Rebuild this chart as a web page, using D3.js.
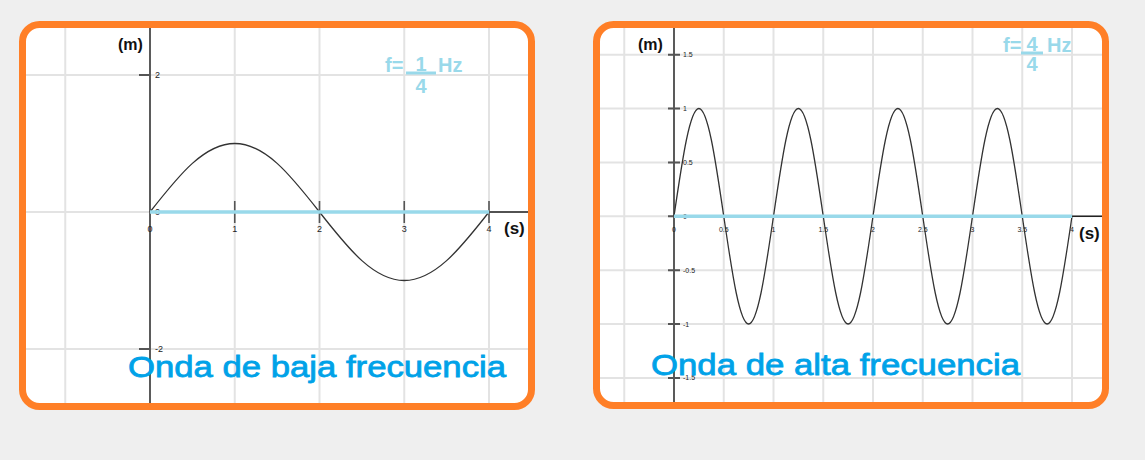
<!DOCTYPE html>
<html>
<head>
<meta charset="utf-8">
<script src="https://cdn.jsdelivr.net/npm/d3@7"></script>
<style>
  html, body { margin: 0; padding: 0; background: #efefef; }
  svg { display: block; font-family: "Liberation Sans", Arial, sans-serif; }
</style>
</head>
<body>
<div id="chart"></div>
<script>
// wave samples (time in s, displacement in m)
var lowT = [0, 0.5, 1, 1.5, 2, 2.5, 3, 3.5, 4];
var lowY = [0, 0.71, 1, 0.71, 0, -0.71, -1, -0.71, 0];

var highT = [0, 0.125, 0.25, 0.375, 0.5, 0.625, 0.75, 0.875,
             1, 1.125, 1.25, 1.375, 1.5, 1.625, 1.75, 1.875,
             2, 2.125, 2.25, 2.375, 2.5, 2.625, 2.75, 2.875,
             3, 3.125, 3.25, 3.375, 3.5, 3.625, 3.75, 3.875, 4];
var highY = [0, 0.71, 1, 0.71, 0, -0.71, -1, -0.71,
             0, 0.71, 1, 0.71, 0, -0.71, -1, -0.71,
             0, 0.71, 1, 0.71, 0, -0.71, -1, -0.71,
             0, 0.71, 1, 0.71, 0, -0.71, -1, -0.71, 0];

var lowXTicks = [0, 1, 2, 3, 4];
var lowYTicks = [2, 0, -2];
var highXTicks = [0, 0.5, 1, 1.5, 2, 2.5, 3, 3.5, 4];
var highYTicks = [1.5, 1, 0.5, 0, -0.5, -1, -1.5];

var ORANGE = "#ff7f27", LIGHTBLUE = "#99d9ea", TITLEBLUE = "#00a2e8", GRID = "#e3e3e3";

var svg = d3.select("#chart").append("svg")
    .attr("width", 1145)
    .attr("height", 460);

svg.append("rect").attr("width", 1145).attr("height", 460).attr("fill", "#efefef");

var defs = svg.append("defs");

var Panel = function (p) {
    this.p = p;
    this.g = svg.append("g");
};

Panel.prototype.build = function () {
    var p = this.p, g = this.g;
    var x = d3.scaleLinear().domain(p.xDomain).range(p.xRange);
    var y = d3.scaleLinear().domain(p.yDomain).range(p.yRange);

    // frame
    g.append("rect")
        .attr("x", p.left + 3.5).attr("y", p.top + 3.5)
        .attr("width", p.w - 7).attr("height", p.h - 7)
        .attr("rx", 17)
        .attr("fill", "#fff")
        .attr("stroke", ORANGE)
        .attr("stroke-width", 7);

    defs.append("clipPath").attr("id", p.id)
        .append("rect")
        .attr("x", p.left + 7).attr("y", p.top + 7)
        .attr("width", p.w - 14).attr("height", p.h - 14)
        .attr("rx", 13);

    var inner = g.append("g").attr("clip-path", "url(#" + p.id + ")");
    var x0 = p.left + 7, x1 = p.left + p.w - 7, y0 = p.top + 7, y1 = p.top + p.h - 7;

    // grid
    inner.selectAll("line.vg").data(p.xGrid).enter().append("line")
        .attr("x1", function (d) { return x(d); }).attr("x2", function (d) { return x(d); })
        .attr("y1", y0).attr("y2", y1)
        .attr("stroke", GRID).attr("stroke-width", 2);
    inner.selectAll("line.hg").data(p.yGrid).enter().append("line")
        .attr("y1", function (d) { return y(d); }).attr("y2", function (d) { return y(d); })
        .attr("x1", x0).attr("x2", x1)
        .attr("stroke", GRID).attr("stroke-width", 2);

    // axes
    inner.append("line")
        .attr("x1", x(0)).attr("x2", x(0)).attr("y1", y0).attr("y2", y1)
        .attr("stroke", "#111").attr("stroke-width", 1.3);
    inner.append("line")
        .attr("x1", x(0)).attr("x2", x1).attr("y1", y(0)).attr("y2", y(0))
        .attr("stroke", "#222").attr("stroke-width", 1.3);

    // y ticks
    inner.selectAll("line.yt").data(p.yTicks.filter(function (d) { return p.zeroYTick || d !== 0; })).enter().append("line")
        .attr("x1", x(0) - p.yTickLen[0]).attr("x2", x(0) + p.yTickLen[1])
        .attr("y1", function (d) { return y(d); }).attr("y2", function (d) { return y(d); })
        .attr("stroke", "#555").attr("stroke-width", 2);
    inner.selectAll("text.yl").data(p.yTicks).enter().append("text")
        .attr("x", x(0) + p.yLabelDx)
        .attr("y", function (d) { return y(d) + 2.5; })
        .attr("font-size", p.tickFont)
        .attr("fill", "#222")
        .text(function (d) { return d; });

    // x ticks
    inner.selectAll("line.xt").data(p.xTicks.filter(function (d) { return d !== 0; })).enter().append("line")
        .attr("x1", function (d) { return x(d); }).attr("x2", function (d) { return x(d); })
        .attr("y1", y(0) - p.xTickLen).attr("y2", y(0) + p.xTickLen)
        .attr("stroke", "#555").attr("stroke-width", 1.6);
    inner.selectAll("text.xl").data(p.xTicks).enter().append("text")
        .attr("x", function (d) { return x(d); })
        .attr("y", y(0) + p.xLabelDy)
        .attr("text-anchor", "middle")
        .attr("font-size", p.tickFont)
        .attr("fill", "#222")
        .text(function (d) { return d; });

    // wave
    var line = d3.line()
        .x(function (d) { return x(d[0]); })
        .y(function (d) { return y(d[1]); })
        .curve(d3.curveNatural);
    inner.append("path")
        .datum(d3.zip(p.t, p.v))
        .attr("d", line)
        .attr("fill", "none")
        .attr("stroke", "#333")
        .attr("stroke-width", 1.3);

    // baseline highlight
    inner.append("line")
        .attr("x1", x(0)).attr("x2", x(4))
        .attr("y1", y(0)).attr("y2", y(0))
        .attr("stroke", LIGHTBLUE).attr("stroke-width", 3.5);

    // unit labels
    g.append("text").attr("x", p.mPos[0]).attr("y", p.mPos[1])
        .attr("font-size", 16).attr("font-weight", "bold").attr("fill", "#111")
        .text("(m)");
    g.append("text").attr("x", p.sPos[0]).attr("y", p.sPos[1])
        .attr("font-size", 17).attr("font-weight", "bold").attr("fill", "#111")
        .text("(s)");

    // frequency label
    var f = g.append("g").attr("fill", LIGHTBLUE).attr("font-weight", "bold").attr("font-size", 20);
    f.append("text").attr("x", p.fPos[0]).attr("y", p.fPos[1]).text("f=");
    f.append("line")
        .attr("x1", p.fracLine[0]).attr("x2", p.fracLine[1])
        .attr("y1", p.fracLine[2]).attr("y2", p.fracLine[2])
        .attr("stroke", LIGHTBLUE).attr("stroke-width", 3);
    f.append("text").attr("x", (p.fracLine[0] + p.fracLine[1]) / 2).attr("y", p.numY)
        .attr("text-anchor", "middle").text(p.num);
    f.append("text").attr("x", (p.fracLine[0] + p.fracLine[1]) / 2).attr("y", p.denY)
        .attr("text-anchor", "middle").text(p.den);
    f.append("text").attr("x", p.hzX).attr("y", p.fPos[1]).text("Hz");

    // title
    g.append("text")
        .attr("x", p.titlePos[0]).attr("y", p.titlePos[1])
        .attr("font-size", 30)
        .attr("fill", TITLEBLUE)
        .attr("stroke", TITLEBLUE).attr("stroke-width", 0.8)
        .attr("textLength", p.titleLen).attr("lengthAdjust", "spacingAndGlyphs")
        .text(p.title);
};

new Panel({
    id: "clipLow", left: 19, top: 21, w: 516, h: 389,
    xDomain: [0, 4], xRange: [150, 489],
    yDomain: [-2, 2], yRange: [349, 75],
    xGrid: [-1, 0, 1, 2, 3, 4, 5], yGrid: [-4, -2, 0, 2, 4],
    xTicks: lowXTicks, yTicks: lowYTicks, zeroYTick: false,
    yTickLen: [11, 0], yLabelDx: 5, xTickLen: 11, xLabelDy: 20, tickFont: 9,
    t: lowT, v: lowY,
    mPos: [118, 50], sPos: [504, 234],
    fPos: [385, 72], fracLine: [406, 436, 73], numY: 71, denY: 93, num: "1", den: "4", hzX: 438,
    title: "Onda de baja frecuencia", titlePos: [128, 377], titleLen: 378
}).build();

new Panel({
    id: "clipHigh", left: 593, top: 21, w: 516, h: 388,
    xDomain: [0, 4], xRange: [674, 1072],
    yDomain: [-1, 1], yRange: [324, 108.5],
    xGrid: [-1, -0.5, 0, 0.5, 1, 1.5, 2, 2.5, 3, 3.5, 4, 4.5], yGrid: [-2, -1.5, -1, -0.5, 0, 0.5, 1, 1.5, 2],
    xTicks: highXTicks, yTicks: highYTicks, zeroYTick: true,
    yTickLen: [6, 6], yLabelDx: 9, xTickLen: 0, xLabelDy: 16, tickFont: 7,
    t: highT, v: highY,
    mPos: [638, 50], sPos: [1079, 239],
    fPos: [1003, 52], fracLine: [1021, 1043, 53], numY: 51, denY: 71, num: "4", den: "4", hzX: 1047,
    title: "Onda de alta frecuencia", titlePos: [651, 375], titleLen: 369
}).build();
</script>
</body>
</html>
